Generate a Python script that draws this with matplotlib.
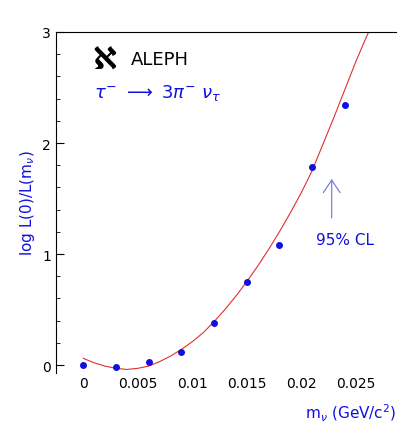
import numpy as np
import matplotlib.pyplot as plt

# data points
m_nu = [0.0, 0.003, 0.006, 0.009, 0.012, 0.015, 0.018, 0.021, 0.024]
logL = [0.0, -0.02, 0.03, 0.12, 0.38, 0.75, 1.08, 1.78, 2.34]

# fitted curve
fit_x = [0.0, 0.001, 0.002, 0.003, 0.004, 0.005, 0.006, 0.007, 0.008, 0.009,
         0.010, 0.011, 0.012, 0.013, 0.014, 0.015, 0.016, 0.017, 0.018, 0.019,
         0.020, 0.021, 0.022, 0.023, 0.024, 0.025, 0.026, 0.0266]
fit_y = [0.06, 0.02, -0.01, -0.03, -0.04, -0.03, -0.01, 0.03, 0.08, 0.14,
         0.21, 0.29, 0.39, 0.50, 0.62, 0.75, 0.89, 1.04, 1.20, 1.37,
         1.55, 1.75, 1.99, 2.23, 2.48, 2.73, 2.96, 3.08]

blue = "#1010e0"
fig = plt.figure(figsize=(4.12, 4.35), dpi=100)
ax = fig.add_axes([56/412, 1 - 374/435, 340/412, 341/435])
ax.plot(fit_x, fit_y, color="#e03030", lw=0.8)
ax.plot(m_nu, logL, "o", color=blue, ms=4)
ax.set_xlim(-0.0025, 0.0287)
ax.set_ylim(-0.072, 3.0)
ax.set_xticks([0, 0.005, 0.01, 0.015, 0.02, 0.025])
ax.set_xticklabels(["0", "0.005", "0.01", "0.015", "0.02", "0.025"])
ax.set_yticks([0, 1, 2, 3])
ax.set_yticks(np.arange(0.2, 3.0, 0.2), minor=True)
ax.tick_params(direction="in", labelsize=10, length=6)
ax.tick_params(which="minor", direction="in", length=3)
ax.tick_params(axis="x", length=0, pad=2)
ax.spines["right"].set_visible(False)
ax.spines["bottom"].set_visible(False)
ax.set_ylabel(r"log L(0)/L(m$_\nu$)", color=blue, fontsize=11)
ax.set_xlabel(r"m$_\nu$ (GeV/c$^2$)", color=blue, fontsize=11)
ax.xaxis.set_label_coords(1.0, -0.085)
ax.xaxis.label.set_ha("right")
ax.text(0.0008, 2.76, "\u2135", fontsize=22, fontweight="bold", va="center")
ax.text(0.0044, 2.76, "ALEPH", fontsize=13, va="center")
ax.text(0.001, 2.46, r"$\tau^{-}\ \longrightarrow\ 3\pi^{-}\ \nu_\tau$", color=blue, fontsize=13, va="center")
ax.annotate("", xy=(0.0228, 1.70), xytext=(0.0228, 1.30),
            arrowprops=dict(arrowstyle="->,head_width=0.6,head_length=0.9", color="#7070e0", lw=0.8))
ax.text(0.0240, 1.13, "95% CL", color=blue, fontsize=11, ha="center", va="center")
fig.savefig("out.png", dpi=100)
